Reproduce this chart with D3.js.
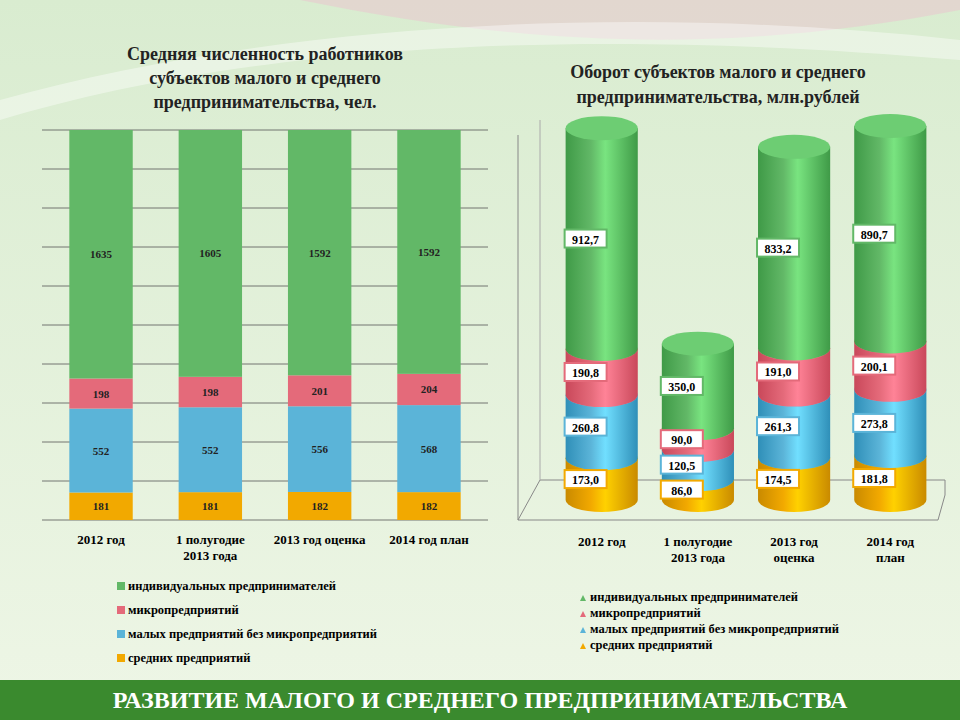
<!DOCTYPE html>
<html><head><meta charset="utf-8">
<script src="https://cdn.jsdelivr.net/npm/d3@7"></script>
<style>body{margin:0;}svg{display:block;font-family:"Times New Roman","Liberation Serif",serif;}</style>
</head><body><svg id="c" width="960" height="720"></svg>
<script>
const categoriesLeft = ["2012 год", "1 полугодие|2013 года", "2013 год оценка", "2014 год план"];
const categoriesRight = ["2012 год", "1 полугодие|2013 года", "2013 год|оценка", "2014 год|план"];
const seriesNames = ["средних предприятий", "малых предприятий без микропредприятий", "микропредприятий", "индивидуальных предпринимателей"];
const workers = [[181,181,182,182],[552,552,556,568],[198,198,201,204],[1635,1605,1592,1592]];
const turnover = [[173.0,86.0,174.5,181.8],[260.8,120.5,261.3,273.8],[190.8,90.0,191.0,200.1],[912.7,350.0,833.2,890.7]];
const colors = ["#f2a900","#5bb4d8","#e46a7a","#62b867"];
const dark = ["#c98a00","#2f8fb8","#c9485a","#3f9a47"];
const fmt = v => v.toFixed(1).replace(".", ",");

const svg = d3.select("#c");
const defs = svg.append("defs");
const bg = defs.append("linearGradient").attr("id","bg").attr("x1",0).attr("y1",0).attr("x2",0).attr("y2",1);
bg.append("stop").attr("offset",0).attr("stop-color","#d9ecd0");
bg.append("stop").attr("offset",1).attr("stop-color","#eef6e6");
svg.append("rect").attr("width",960).attr("height",720).attr("fill","url(#bg)");
svg.append("path").attr("d","M300,0 C500,40 700,60 960,10 L960,0Z").attr("fill","#e7c9cf").attr("opacity",0.6);
svg.append("path").attr("d","M0,120 C200,60 500,20 960,60 L960,40 C600,0 250,30 0,100Z").attr("fill","#ffffff").attr("opacity",0.4);
svg.append("rect").attr("x",0).attr("y",680).attr("width",960).attr("height",40).attr("fill","#3a8a2e");
svg.append("text").attr("x",480).attr("y",708).attr("text-anchor","middle").attr("fill","#fff").attr("font-size",24).attr("font-weight","bold").text("РАЗВИТИЕ МАЛОГО И СРЕДНЕГО ПРЕДПРИНИМАТЕЛЬСТВА");

const t1 = ["Средняя численность работников","субъектов малого и среднего","предпринимательства, чел."];
t1.forEach((s,i)=>svg.append("text").attr("x",265).attr("y",60+i*24).attr("text-anchor","middle").attr("font-size",18).attr("font-weight","bold").attr("fill","#222").text(s));
const t2 = ["Оборот субъектов малого и среднего","предпринимательства, млн.рублей"];
t2.forEach((s,i)=>svg.append("text").attr("x",718).attr("y",78+i*25).attr("text-anchor","middle").attr("font-size",18).attr("font-weight","bold").attr("fill","#222").text(s));

const xL = d3.scaleBand().domain(categoriesLeft).range([42,488]).paddingInner(0.42).paddingOuter(0.25);
const yL = d3.scaleLinear().domain([0,1]).range([520,130]);
const gl = svg.append("g");
yL.ticks(10).forEach(t=>gl.append("line").attr("x1",42).attr("x2",488).attr("y1",yL(t)).attr("y2",yL(t)).attr("stroke","#555").attr("stroke-width",0.8));
categoriesLeft.forEach((c,j)=>{
  const tot = d3.sum(workers, s=>s[j]);
  let acc=0;
  workers.forEach((s,i)=>{
    const y0=yL(acc/tot), y1=yL((acc+s[j])/tot);
    gl.append("rect").attr("x",xL(c)).attr("width",xL.bandwidth()).attr("y",y1).attr("height",y0-y1).attr("fill",colors[i]);
    gl.append("text").attr("x",xL(c)+xL.bandwidth()/2).attr("y",(y0+y1)/2+4).attr("text-anchor","middle").attr("font-size",11).attr("font-weight","bold").attr("fill","#222").text(s[j]);
    acc+=s[j];
  });
  c.split("|").forEach((l,k)=>gl.append("text").attr("x",xL(c)+xL.bandwidth()/2).attr("y",544+k*16).attr("text-anchor","middle").attr("font-size",13).attr("font-weight","bold").text(l));
});
[3,2,1,0].forEach((i,k)=>{
  gl.append("rect").attr("x",117).attr("y",582+k*24).attr("width",8).attr("height",8).attr("fill",colors[i]);
  gl.append("text").attr("x",128).attr("y",590+k*24).attr("font-size",12.5).attr("font-weight","bold").text(seriesNames[i]);
});

const gr = svg.append("g");
const xR = d3.scaleBand().domain(categoriesRight).range([556,936]).paddingInner(0.25).paddingOuter(0.1);
const yR = d3.scaleLinear().domain([0,1600]).range([500,113]);
gr.append("path").attr("d","M518,520 L540,480 L945,480 L945,495 L938,520Z").attr("fill","none").attr("stroke","#888");
gr.append("line").attr("x1",518).attr("x2",518).attr("y1",135).attr("y2",520).attr("stroke","#888");
gr.append("line").attr("x1",540).attr("x2",540).attr("y1",120).attr("y2",480).attr("stroke","#aaa");
colors.forEach((c,i)=>{
  const g=defs.append("linearGradient").attr("id","cg"+i);
  g.append("stop").attr("offset",0).attr("stop-color",dark[i]);
  g.append("stop").attr("offset",0.35).attr("stop-color",c);
  g.append("stop").attr("offset",0.55).attr("stop-color",d3.color(c).brighter(0.6));
  g.append("stop").attr("offset",1).attr("stop-color",dark[i]);
});
const ry=12;
const labels=[];
categoriesRight.forEach((c,j)=>{
  const cx=xR(c)+xR.bandwidth()/2, rx=xR.bandwidth()/2;
  let acc=0;
  turnover.forEach((s,i)=>{
    const yb=yR(acc), yt=yR(acc+s[j]);
    gr.append("path").attr("d",`M${cx-rx},${yt} L${cx-rx},${yb} A${rx},${ry} 0 0 0 ${cx+rx},${yb} L${cx+rx},${yt} Z`).attr("fill",`url(#cg${i})`);
    gr.append("ellipse").attr("cx",cx).attr("cy",yt).attr("rx",rx).attr("ry",ry).attr("fill",d3.color(colors[i]).brighter(0.3));
    labels.push({x:cx-rx+20,y:(yb+yt)/2,t:fmt(s[j]),c:colors[i]});
    acc+=s[j];
  });
  c.split("|").forEach((l,k)=>gr.append("text").attr("x",cx).attr("y",546+k*16).attr("text-anchor","middle").attr("font-size",13).attr("font-weight","bold").text(l));
});
labels.forEach(l=>{
  gr.append("rect").attr("x",l.x-21).attr("y",l.y-9).attr("width",42).attr("height",18).attr("fill","#fff").attr("stroke",l.c).attr("stroke-width",2);
  gr.append("text").attr("x",l.x).attr("y",l.y+5).attr("text-anchor","middle").attr("font-size",12).attr("font-weight","bold").text(l.t);
});
[3,2,1,0].forEach((i,k)=>{
  gr.append("path").attr("d",`M580,${601+k*16} l3,-6 l3,6z`).attr("fill",colors[i]);
  gr.append("text").attr("x",590).attr("y",601+k*16).attr("font-size",12.5).attr("font-weight","bold").text(seriesNames[i]);
});
</script></body></html>
